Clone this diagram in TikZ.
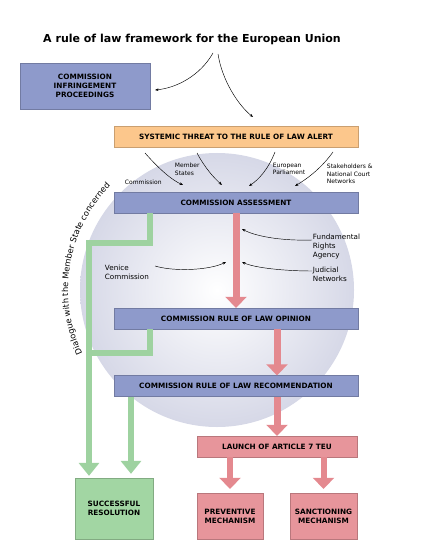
\documentclass[tikz,border=0pt]{standalone}
\usepackage{fontspec}
\setmainfont{DejaVu Sans}
\usetikzlibrary{arrows.meta,decorations.text,shadows}

\definecolor{boxblue}{RGB}{142,154,203}
\definecolor{boxorange}{RGB}{252,199,140}
\definecolor{boxred}{RGB}{231,149,155}
\definecolor{boxgreen}{RGB}{162,214,163}
\definecolor{arrred}{RGB}{228,137,143}
\definecolor{arrgreen}{RGB}{158,210,160}
\definecolor{discgray}{RGB}{214,216,231}

\newcommand{\titlefont}{\fontsize{11}{13}\selectfont\bfseries}
\newcommand{\boxfont}{\fontsize{7.3}{9}\selectfont\bfseries}
\newcommand{\smallfont}{\fontsize{6}{7.6}\selectfont}
\newcommand{\midfont}{\fontsize{7.2}{9}\selectfont}
\newcommand{\dialfont}{\fontsize{8.3}{9}\selectfont}

\tikzset{
  box/.style={fill=#1, draw=#1!80!black, line width=0.3pt, inner sep=0.75pt,
    align=center, font=\boxfont,
    drop shadow={opacity=0.25, shadow xshift=0.8pt, shadow yshift=-0.8pt}},
  wide/.style={minimum width=244pt, minimum height=21pt},
  lab/.style={anchor=west, inner sep=0.75pt, align=left, font=\smallfont},
  midlab/.style={anchor=west, inner sep=0.75pt, align=left, font=\midfont},
  thinarr/.style={line width=0.45pt, -{Stealth[length=3.5pt,width=2.6pt]}},
  redarr/.style={draw=arrred, line width=7pt, -{Triangle[width=21pt,length=11pt]}},
  greenline/.style={draw=arrgreen, line width=5.5pt},
  greenarr/.style={greenline, -{Triangle[width=20pt,length=13pt]}}
}

\begin{document}
\begin{tikzpicture}[x=1pt,y=-1pt]
\useasboundingbox (0,0) rectangle (424,553);

% background disc and its caption
\shade[inner color=white, outer color=discgray] (217,290) circle[radius=137];
\path[decorate, decoration={text along path, text align=center,
  text={|\dialfont|Dialogue with the Member State concerned}}]
  (83.1,355.3) arc[start angle=154, end angle=225, radius=149];

% title
\node[font=\titlefont, inner sep=0.75pt] (title) at (192,39) {A rule of law framework for the European Union};

% boxes
\node[box=boxblue, minimum width=130pt, minimum height=46pt] (infring) at (85,86) {COMMISSION\\INFRINGEMENT\\PROCEEDINGS};
\node[box=boxorange, wide] (threat) at (236,136.5) {SYSTEMIC THREAT TO THE RULE OF LAW ALERT};
\node[box=boxblue, wide] (assess) at (236,202.5) {COMMISSION ASSESSMENT};
\node[box=boxblue, wide] (opinion) at (236,318.5) {COMMISSION RULE OF LAW OPINION};
\node[box=boxblue, wide] (recomm) at (236,386) {COMMISSION RULE OF LAW RECOMMENDATION};
\node[box=boxred, minimum width=160pt, minimum height=21pt] (art7) at (277,446.5) {LAUNCH OF ARTICLE 7 TEU};
\node[box=boxgreen, minimum width=78pt, minimum height=61pt] (success) at (114,508.5) {SUCCESSFUL\\RESOLUTION};
\node[box=boxred, minimum width=66pt, minimum height=46pt] (prevent) at (230,516) {PREVENTIVE\\MECHANISM};
\node[box=boxred, minimum width=67pt, minimum height=46pt] (sanction) at (323.5,516) {SANCTIONING\\MECHANISM};

% labels
\node[lab] (lcom) at (124,182) {Commission};
\node[lab] (lms) at (174,169) {Member\\States};
\node[lab] (lep) at (272,169) {European\\Parliament};
\node[lab] (lsh) at (326,174) {Stakeholders \&\\National Court\\Networks};
\node[midlab] (lfra) at (312,247) {Fundamental\\Rights\\Agency};
\node[midlab] (ljud) at (312,274.5) {Judicial\\Networks};
\node[midlab] (lven) at (104,272.5) {Venice\\Commission};

% connector ends
\coordinate (tL) at (213,53);
\coordinate (tR) at (218,54);
\coordinate (infE) at (155,90);
\coordinate (thrN) at (253,117);
\coordinate (c1s) at (145,153);  \coordinate (c1e) at (183,185);
\coordinate (c2s) at (197,153);  \coordinate (c2e) at (222,185);
\coordinate (c3s) at (275,152);  \coordinate (c3e) at (249,186);
\coordinate (c4s) at (333,152);  \coordinate (c4e) at (295,186);
\coordinate (fraS) at (312,240); \coordinate (fraE) at (242,229);
\coordinate (judS) at (312,271); \coordinate (judE) at (242,262);
\coordinate (venS) at (155,266); \coordinate (venE) at (226,262);
\coordinate (gtop) at (150,243);
\coordinate (trunk) at (89,243);
\coordinate (gmid) at (89,353);
\coordinate (gright) at (131,476);

% thin arrows
\draw[thinarr] (tL) .. controls (200,76) and (176,88) .. (infE);
\draw[thinarr] (tR) .. controls (222,80) and (238,105) .. (thrN);
\draw[thinarr] (c1s) .. controls (160,170) and (172,180) .. (c1e);
\draw[thinarr] (c2s) .. controls (205,168) and (214,178) .. (c2e);
\draw[thinarr] (c3s) .. controls (268,170) and (258,180) .. (c3e);
\draw[thinarr] (c4s) .. controls (320,170) and (305,180) .. (c4e);
\draw[thinarr] (fraS) .. controls (280,241) and (255,236) .. (fraE);
\draw[thinarr] (judS) .. controls (285,271) and (255,268) .. (judE);
\draw[thinarr] (venS) .. controls (175,272) and (210,270) .. (venE);

% procedure arrows
\draw[redarr] (assess.south) -- (opinion.north);
\draw[redarr] (opinion.south -| art7.north) -- (recomm.north -| art7.north);
\draw[redarr] (recomm.south -| art7.north) -- (art7.north);
\draw[redarr, line width=6pt, shorten >=4pt] (art7.south -| prevent.north) -- (prevent.north);
\draw[redarr, line width=6pt, shorten >=4pt] (art7.south -| sanction.north) -- (sanction.north);

% dialogue arrows
\draw[greenarr, shorten >=2pt] (assess.south -| gtop) -- (gtop) -- (trunk) -- (trunk |- success.north);
\draw[greenline] (opinion.south -| gtop) |- (gmid);
\draw[greenarr, shorten >=4pt] (recomm.south -| gright) -- (gright |- success.north);

\end{tikzpicture}
\end{document}
